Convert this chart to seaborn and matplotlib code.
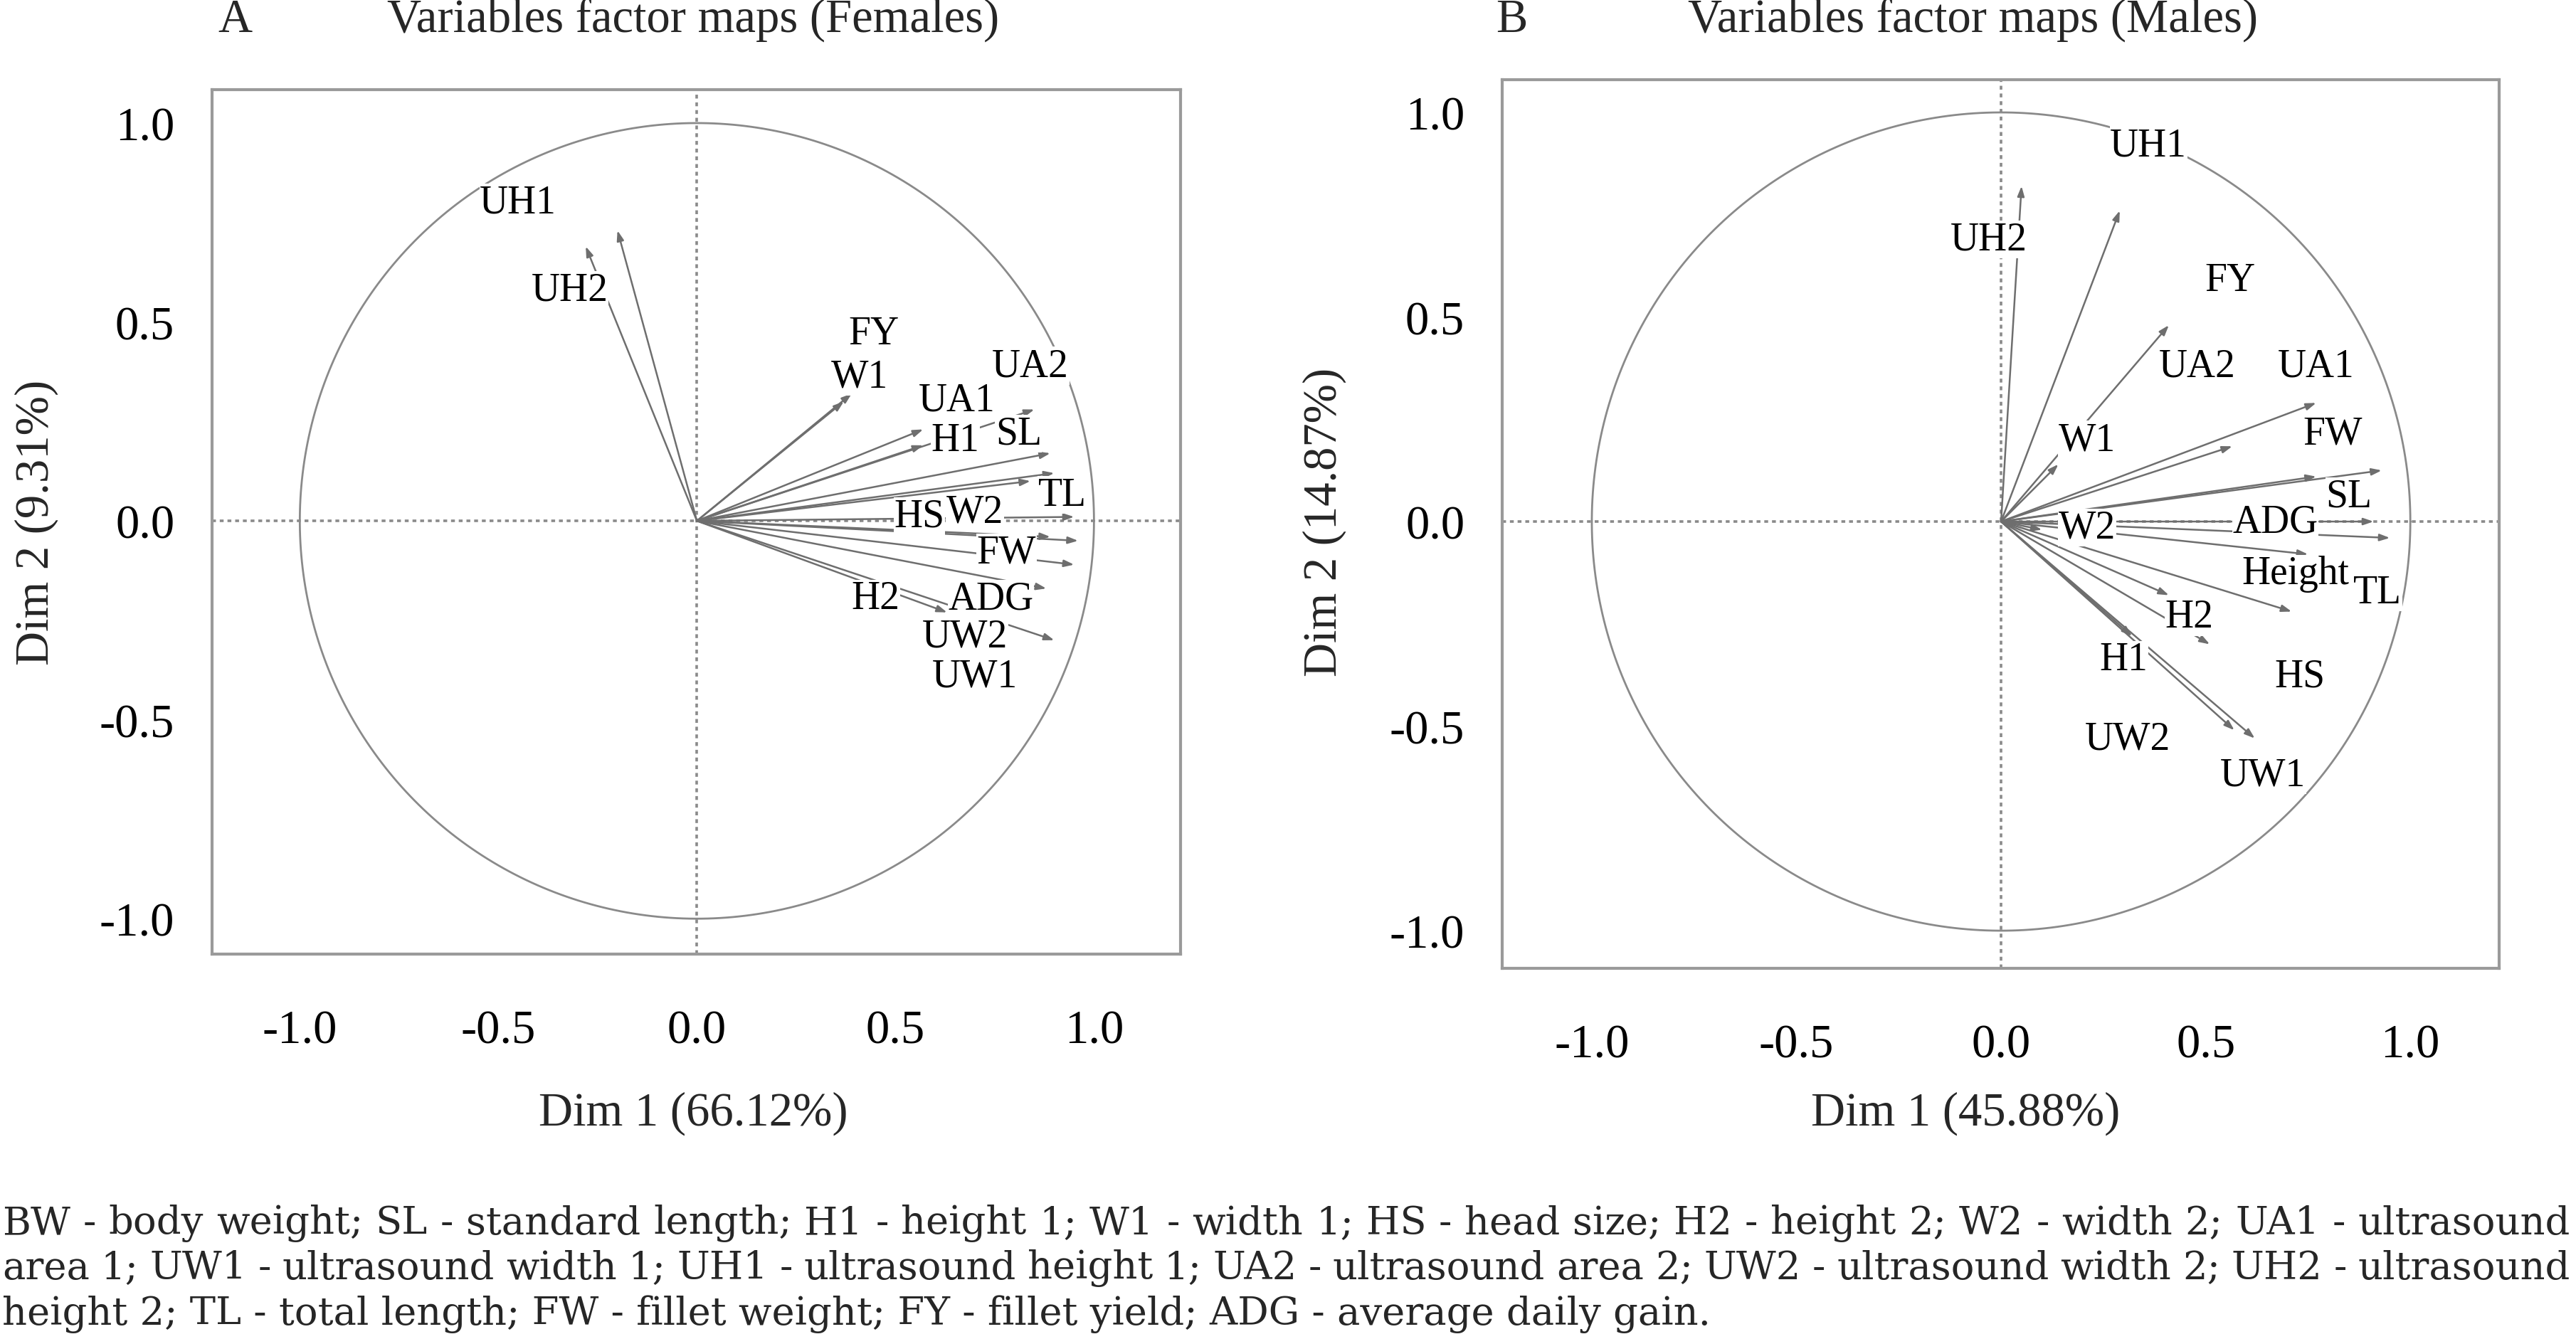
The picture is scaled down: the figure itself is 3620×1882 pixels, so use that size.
import numpy as np
import pandas as pd
import matplotlib
matplotlib.use("Agg")
import matplotlib.pyplot as plt
import seaborn as sns

# === Panel A: females ===
fem_vars = ["UH1", "UH2", "FY", "W1", "UA2", "UA1", "H1", "SL", "BW",
            "TL", "HS", "W2", "FW", "ADG", "H2", "UW2", "UW1"]
fem_dim1 = [-0.20, -0.28, 0.39, 0.37, 0.85, 0.57, 0.57, 0.89, 0.90,
            0.95, 0.84, 0.89, 0.96, 0.88, 0.63, 0.90, 0.95]
fem_dim2 = [0.73, 0.69, 0.32, 0.30, 0.28, 0.23, 0.19, 0.17, 0.12,
            0.01, 0.10, -0.04, -0.05, -0.17, -0.23, -0.30, -0.11]
# where the labels sit (moved off the arrows, as in the original)
fem_lab_x = [-0.45, -0.32, 0.445, 0.41, 0.84, 0.655, 0.65, 0.81, np.nan,
             0.92, 0.56, 0.70, 0.78, 0.74, 0.45, 0.675, 0.70]
fem_lab_y = [0.80, 0.58, 0.47, 0.363, 0.39, 0.304, 0.202, 0.22, np.nan,
             0.065, 0.011, 0.023, -0.08, -0.195, -0.195, -0.29, -0.39]

# === Panel B: males ===
male_vars = ["UH1", "UH2", "FY", "UA2", "UA1", "W1", "FW", "SL", "W2",
             "ADG", "Height", "TL", "H2", "H1", "HS", "UW2", "UW1", "BW"]
male_dim1 = [0.29, 0.05, 0.41, 0.565, 0.77, 0.14, 0.77, 0.93, 0.10,
             0.91, 0.75, 0.95, 0.51, 0.32, 0.71, 0.57, 0.62, 0.41]
male_dim2 = [0.76, 0.82, 0.48, 0.184, 0.29, 0.14, 0.11, 0.125, -0.02,
             0.0, -0.08, -0.04, -0.30, -0.28, -0.22, -0.51, -0.53, -0.18]
male_lab_x = [0.36, -0.03, 0.56, 0.48, 0.77, 0.21, 0.81, 0.85, 0.21,
              0.67, 0.72, 0.92, 0.46, 0.30, 0.73, 0.31, 0.64, np.nan]
male_lab_y = [0.92, 0.69, 0.59, 0.38, 0.38, 0.20, 0.215, 0.062, -0.014,
              0.0, -0.127, -0.173, -0.233, -0.338, -0.379, -0.532, -0.619, np.nan]

ticks = [-1.0, -0.5, 0.0, 0.5, 1.0]
tick_labels = ["-1.0", "-0.5", "0.0", "0.5", "1.0"]

caption = [
    "BW - body weight; SL - standard length; H1 - height 1; W1 - width 1; HS - head size; "
    "H2 - height 2; W2 - width 2; UA1 - ultrasound",
    "area 1; UW1 - ultrasound width 1; UH1 - ultrasound height 1; UA2 - ultrasound area 2; "
    "UW2 - ultrasound width 2; UH2 - ultrasound",
    "height 2; TL - total length; FW - fillet weight; FY - fillet yield; ADG - average daily gain.",
]

sns.set_theme(style="white")
plt.rcParams['font.family'] = ['Liberation Serif', 'DejaVu Serif']

W, H = 3620, 1883
fig = plt.figure(figsize=(W / 200, H / 200), dpi=200)
axA = fig.add_axes([298 / W, 1 - 1342 / H, 1361 / W, 1215 / H])
axB = fig.add_axes([2111 / W, 1 - 1362 / H, 1401 / W, 1249 / H])

grey = "#8a8a8a"
angle = np.linspace(0, 2 * np.pi, 400)
circle = pd.DataFrame({"x": np.cos(angle), "y": np.sin(angle)})


def draw_panel(ax, names, d1, d2, lx, ly, xlim, ylim, ypad):
    sns.lineplot(data=circle, x="x", y="y", sort=False, estimator=None,
                 color=grey, lw=1.0, ax=ax)
    ax.axhline(0, color=grey, lw=1.3, ls=(0, (1.5, 1.5)), zorder=1)
    ax.axvline(0, color=grey, lw=1.3, ls=(0, (1.5, 1.5)), zorder=1)
    for x, y in zip(d1, d2):
        ax.annotate("", xy=(x, y), xytext=(0, 0),
                    arrowprops=dict(arrowstyle="-|>,head_length=0.35,head_width=0.12",
                                    color="#6e6e6e", lw=0.9, shrinkA=0, shrinkB=0),
                    zorder=2)
    for n, x, y in zip(names, lx, ly):
        if np.isnan(x):
            continue
        ax.text(x, y, n, ha="center", va="center", fontsize=20, color="black",
                zorder=3, bbox=dict(fc="white", ec="none", pad=0.3))
    ax.set_xlim(*xlim)
    ax.set_ylim(*ylim)
    ax.set_xticks(ticks)
    ax.set_xticklabels(tick_labels)
    ax.set_yticks(ticks)
    ax.set_yticklabels(tick_labels)
    ax.set_xlabel("")
    ax.set_ylabel("")
    ax.tick_params(axis="both", direction="out", length=8, width=0.8,
                   color=grey, labelsize=24, labelcolor="black")
    ax.tick_params(axis="x", pad=20)
    ax.tick_params(axis="y", pad=ypad)
    for s in ax.spines.values():
        s.set_color("#9a9a9a")
        s.set_linewidth(1.5)


draw_panel(axA, fem_vars, fem_dim1, fem_dim2, fem_lab_x, fem_lab_y,
           (-1.221, 1.218), (-1.089, 1.084), 11)
draw_panel(axB, male_vars, male_dim1, male_dim2, male_lab_x, male_lab_y,
           (-1.219, 1.217), (-1.092, 1.080), 11)

# titles and axis titles
fig.text(330 / W, 0.985, "A", fontsize=24, ha="center", va="center")
fig.text(974 / W, 0.985, "Variables factor maps (Females)", fontsize=24, ha="center", va="center")
fig.text(2124 / W, 0.985, "B", fontsize=24, ha="center", va="center")
fig.text(2773 / W, 0.985, "Variables factor maps (Males)", fontsize=24, ha="center", va="center")

fig.text(974 / W, 1 - 1565 / H, "Dim 1 (66.12%)", fontsize=24, ha="center", va="center")
fig.text(2762 / W, 1 - 1565 / H, "Dim 1 (45.88%)", fontsize=24, ha="center", va="center")
fig.text(51 / W, 1 - 734 / H, "Dim 2 (9.31%)", fontsize=24, ha="center", va="center", rotation=90)
fig.text(1861 / W, 1 - 734 / H, "Dim 2 (14.87%)", fontsize=24, ha="center", va="center", rotation=90)

# caption: size taken from the short last line, first two lines justified
renderer = fig.canvas.get_renderer()
cap_font = "DejaVu Serif"
cap_y = [1720, 1783, 1847]


def text_width(s, size):
    t = fig.text(0, 0, s, fontsize=size, family=cap_font)
    w = t.get_window_extent(renderer).width
    t.remove()
    return w


fs = 18 * 2401 / text_width(caption[2], 18)
x_left, x_right = 3, 3612
for i, (line, y) in enumerate(zip(caption, cap_y)):
    yf = 1 - y / H
    if i == len(caption) - 1:
        fig.text(x_left / W, yf, line, fontsize=fs, family=cap_font, ha="left", va="center")
        continue
    words = line.split(" ")
    widths = [text_width(w, fs) for w in words]
    gap = (x_right - x_left - sum(widths)) / (len(words) - 1)
    x = x_left
    for w, wd in zip(words, widths):
        fig.text(x / W, yf, w, fontsize=fs, family=cap_font, ha="left", va="center")
        x += wd + gap

fig.savefig("out.png", dpi=200, facecolor="white")
